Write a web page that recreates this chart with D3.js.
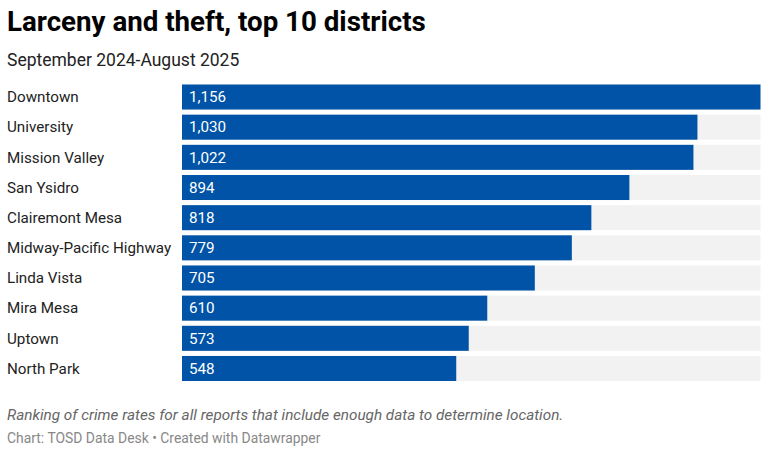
<!DOCTYPE html>
<html>
<head>
<meta charset="utf-8">
<script src="https://cdn.jsdelivr.net/npm/d3@7"></script>
<style>
  body { margin: 0; background: #fff; font-family: Roboto, sans-serif; }
  svg text { font-family: Roboto, sans-serif; }
</style>
</head>
<body>
<div id="chart"></div>
<script>
// data
var districts = ["Downtown", "University", "Mission Valley", "San Ysidro", "Clairemont Mesa",
    "Midway-Pacific Highway", "Linda Vista", "Mira Mesa", "Uptown", "North Park"];
var counts = [1156, 1030, 1022, 894, 818, 779, 705, 610, 573, 548];

var width = 768, height = 453;
var barLeft = 182, barRight = 760.5;

var svg = d3.select("#chart").append("svg")
    .attr("width", width)
    .attr("height", height);

svg.append("text")
    .attr("x", 7).attr("y", 31)
    .attr("font-size", 27.7).attr("font-weight", 700).attr("fill", "#000")
    .text("Larceny and theft, top 10 districts");

svg.append("text")
    .attr("x", 7).attr("y", 66)
    .attr("font-size", 17.5).attr("fill", "#222")
    .text("September 2024-August 2025");

var x = d3.scaleLinear()
    .domain([0, d3.max(counts)])
    .range([0, barRight - barLeft]);

var y = d3.scaleBand()
    .domain(districts)
    .range([84.5, 381])
    .paddingInner(0.17)
    .paddingOuter(0);

var rows = svg.selectAll("g.row")
    .data(districts.map(function(d, i){ return {name: d, value: counts[i]}; }))
    .enter().append("g")
    .attr("class", "row")
    .attr("transform", function(d){ return "translate(0," + y(d.name) + ")"; });

// grey background track
rows.append("rect")
    .attr("x", barLeft).attr("y", 0)
    .attr("width", barRight - barLeft)
    .attr("height", y.bandwidth())
    .attr("fill", "#f2f2f2");

rows.append("rect")
    .attr("x", barLeft).attr("y", 0)
    .attr("width", function(d){ return x(d.value); })
    .attr("height", y.bandwidth())
    .attr("fill", "#0053a6");

rows.append("text")
    .attr("x", 7)
    .attr("y", y.bandwidth() / 2)
    .attr("dy", "0.35em")
    .attr("font-size", 15.2).attr("fill", "#222")
    .text(function(d){ return d.name; });

var fmt = d3.format(",");
rows.append("text")
    .attr("x", barLeft + 7)
    .attr("y", y.bandwidth() / 2)
    .attr("dy", "0.35em")
    .attr("font-size", 15.2).attr("fill", "#fff")
    .text(function(d){ return fmt(d.value); });

svg.append("text")
    .attr("x", 7).attr("y", 420)
    .attr("font-size", 15.3).attr("font-style", "italic").attr("fill", "#666")
    .text("Ranking of crime rates for all reports that include enough data to determine location.");

svg.append("text")
    .attr("x", 7).attr("y", 443)
    .attr("font-size", 13.9).attr("fill", "#888")
    .text("Chart: TOSD Data Desk \u2022 Created with Datawrapper");
</script>
</body>
</html>
